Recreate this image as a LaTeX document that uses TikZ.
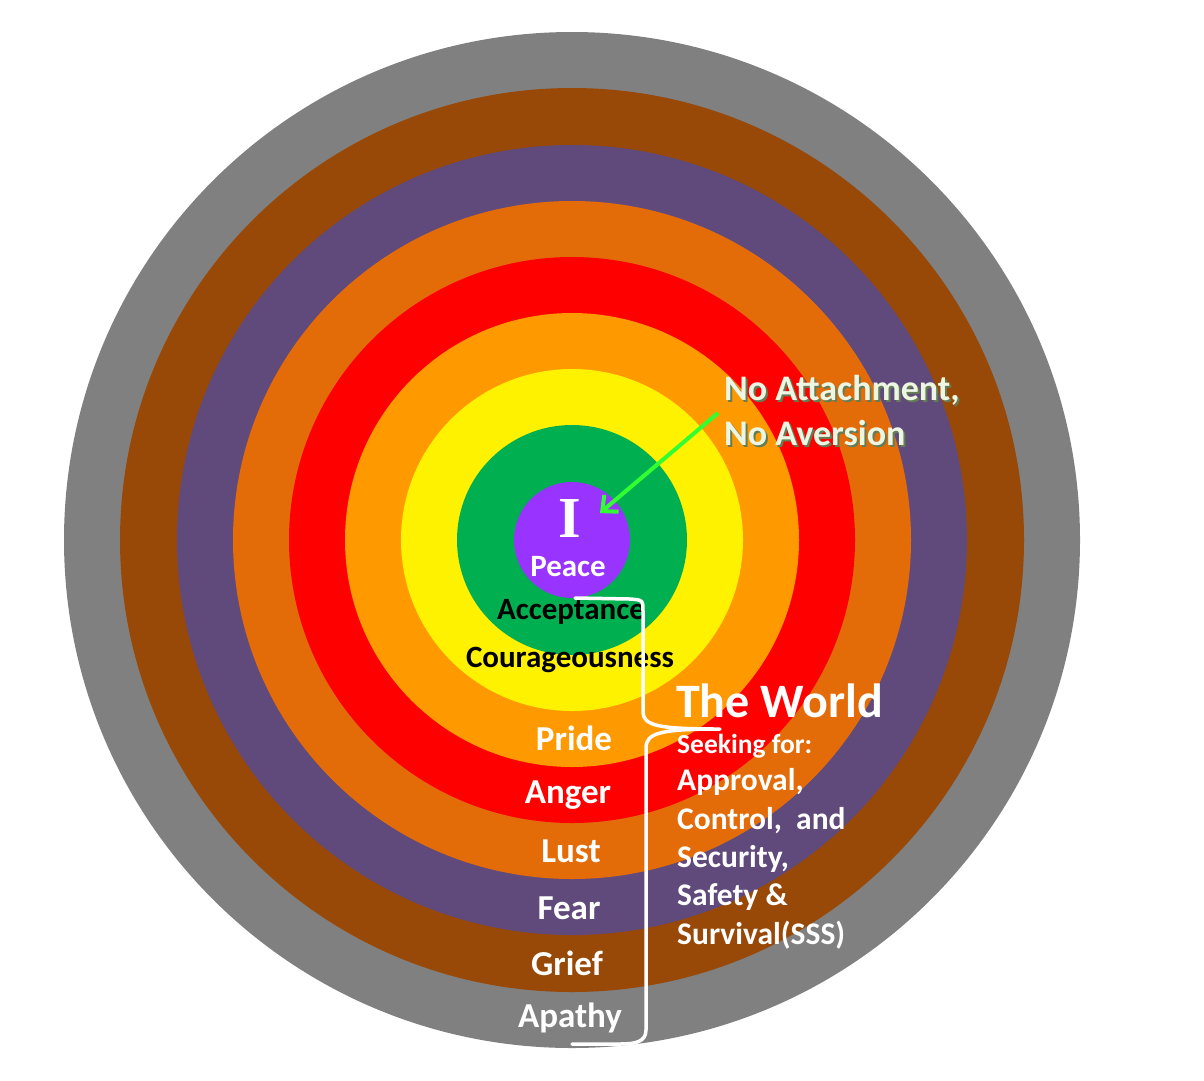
\documentclass[tikz,border=0pt]{standalone}
\usepackage{fontspec}
\usetikzlibrary{arrows.meta}
\setmainfont{Carlito}
\newfontfamily\serifI{Liberation Serif}
\definecolor{cgray}{RGB}{128,128,128}
\definecolor{cbrown}{RGB}{152,72,7}
\definecolor{cpurple}{RGB}{96,74,123}
\definecolor{cdorange}{RGB}{227,108,9}
\definecolor{corange}{RGB}{255,153,0}
\definecolor{cgreen}{RGB}{0,176,80}
\definecolor{cviolet}{RGB}{153,51,255}
\definecolor{carrow}{RGB}{50,255,50}
\definecolor{cnafill}{RGB}{236,246,226}
\definecolor{cnaline}{RGB}{100,125,85}
\begin{document}
\begin{tikzpicture}[x=1pt,y=-1pt,
  lab/.style={font=\bfseries\fontsize{35}{35}\selectfont,text=white,inner sep=0},
  blk/.style={font=\bfseries\fontsize{31}{31}\selectfont,text=black,inner sep=0},
  side/.style={font=\bfseries\fontsize{31.5}{31.5}\selectfont,text=white,inner sep=0,anchor=west},
  brace/.style={white,line width=3.5pt,line cap=round,line join=round},
  noat/.style={font=\bfseries\fontsize{36}{36}\selectfont,inner sep=0,anchor=west}]
\useasboundingbox (0,0) rectangle (1204,1080);
\fill[white] (0,0) rectangle (1204,1080);
\coordinate (c) at (572,540);
\fill[cgray] (c) circle (508);
\fill[cbrown] (c) circle (452);
\fill[cpurple] (c) circle (395);
\fill[cdorange] (c) circle (339);
\fill[red] (c) circle (283);
\fill[corange] (c) circle (227);
\fill[yellow] (c) circle (171);
\fill[cgreen] (c) circle (115);
\fill[cviolet] (c) circle (58);
\node[inner sep=0,text=white,font=\serifI\bfseries\fontsize{58}{58}\selectfont] (i) at (570,518) {I};
\node[lab,font=\bfseries\fontsize{31}{31}\selectfont] (peace) at (568,567) {Peace};
\node[blk] (acc) at (571,612) {Acceptance};
\node[blk] (cour) at (570,660) {Courageousness};
\node[lab] (pride) at (574,738) {Pride};
\node[lab] (anger) at (568,795) {Anger};
\node[lab] (lust) at (571,851) {Lust};
\node[lab] (fear) at (569,908) {Fear};
\node[lab] (grief) at (567,963) {Grief};
\node[lab] (apathy) at (570,1018) {Apathy};
\node[side,font=\bfseries\fontsize{48}{48}\selectfont] (world) at (676,701) {The World};
\node[side,font=\bfseries\fontsize{27.5}{27.5}\selectfont] (seek) at (677,746) {Seeking for:};
\node[side] (a1) at (677,782) {Approval,};
\node[side] (a2) at (677,821) {Control,\ \ and};
\node[side] (a3) at (677,859) {Security,};
\node[side] (a4) at (677,897) {Safety \&};
\node[side] (a5) at (677,935) {Survival(SSS)};
% brace
\coordinate (b1) at (575,598);
\coordinate (tip) at (720,729);
\coordinate (b2) at (572,1044);
\draw[brace] (b1) -- (630,599) .. controls (643,600) .. (643,612) -- (643,712) .. controls (643,726) and (660,729) .. (tip)
  .. controls (660,729) and (646,733) .. (646,748) -- (646,1030) .. controls (646,1042) and (635,1044) .. (620,1044) -- (b2);
% arrow
\coordinate (as) at (718,413);
\coordinate (ae) at (600,513);
\draw[carrow,line width=4pt,-{Straight Barb[length=12pt,width=22pt]}] (as) -- (ae);
\node[noat,text=cnaline] at (726,392) {No Attachment,};
\node[noat,text=cnaline] at (726,435) {No Aversion};
\node[noat,text=cnafill] (na1) at (724,390) {No Attachment,};
\node[noat,text=cnafill] (na2) at (724,433) {No Aversion};
\end{tikzpicture}
\end{document}
